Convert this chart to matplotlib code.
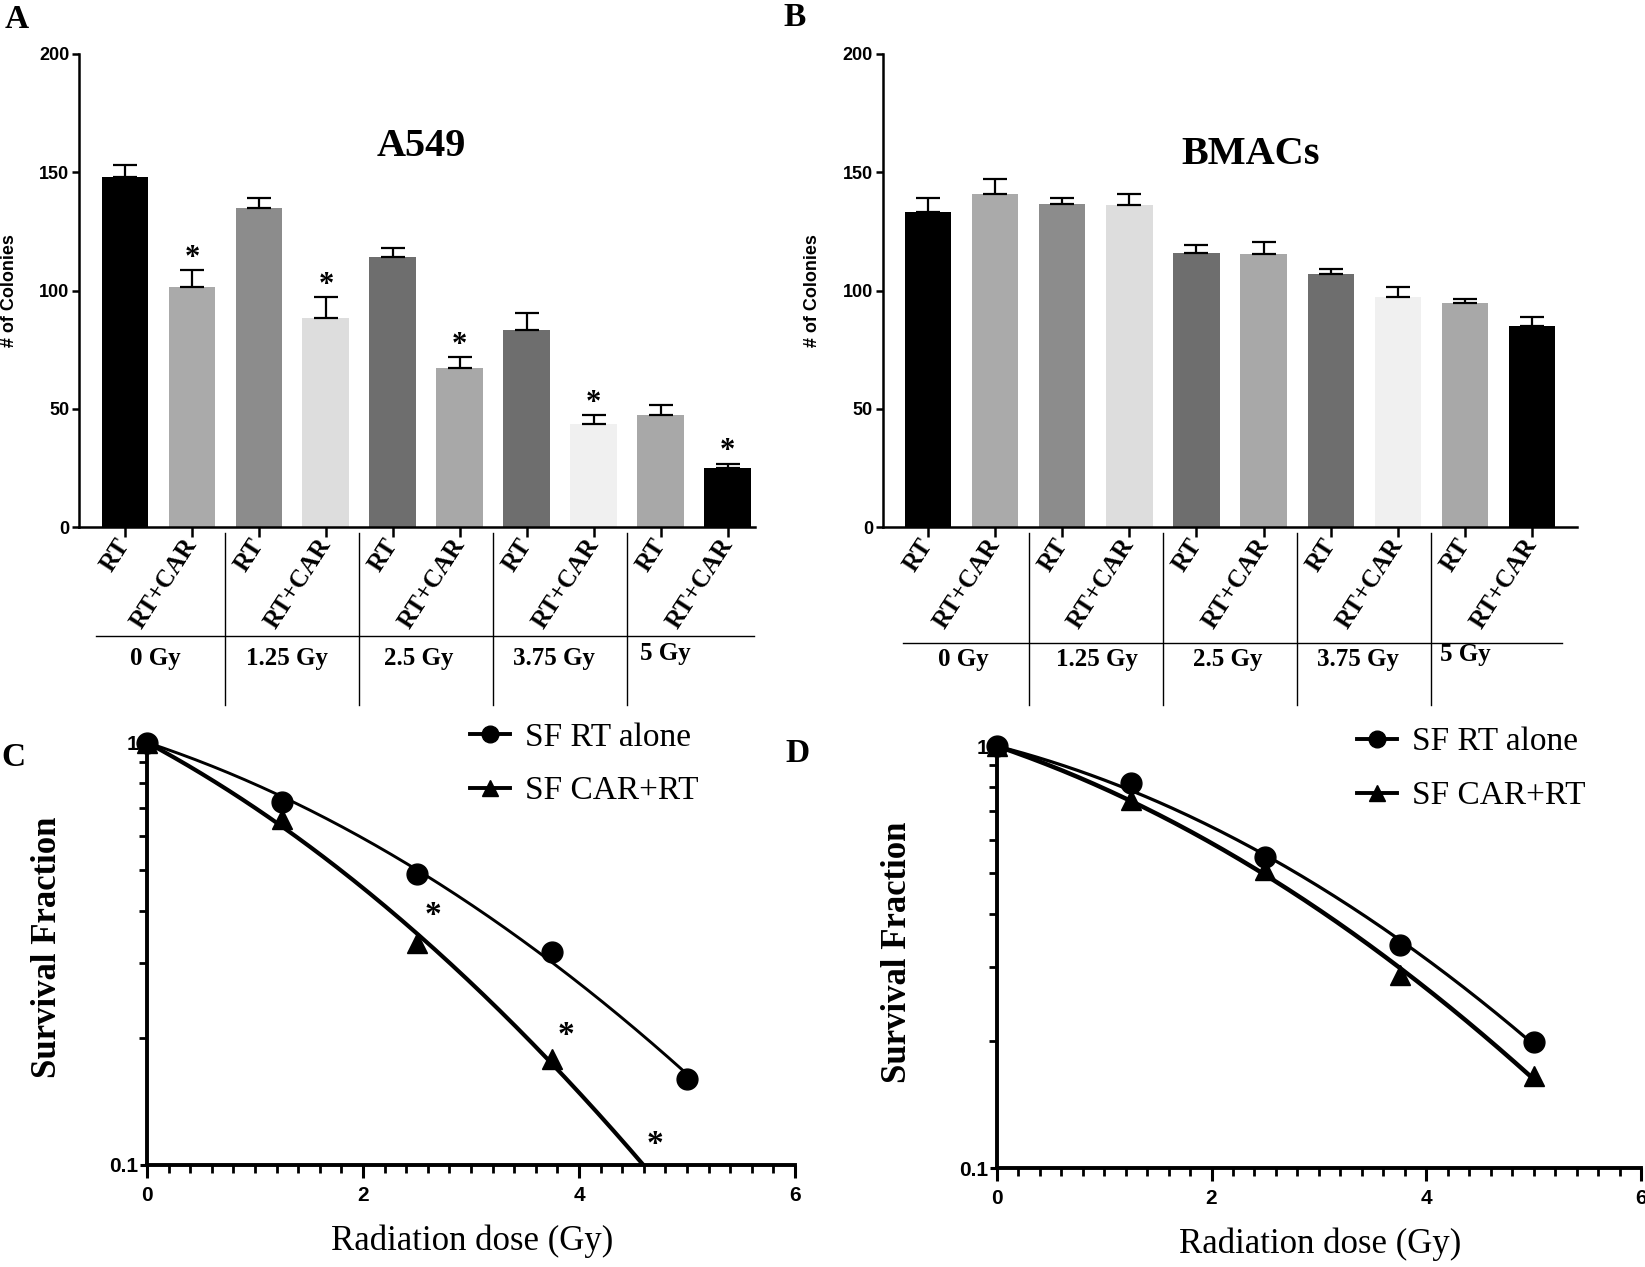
import numpy as np
import matplotlib
matplotlib.use('Agg')
import matplotlib.pyplot as plt
from matplotlib.transforms import blended_transform_factory
from matplotlib.ticker import FixedLocator, NullFormatter, MultipleLocator
from matplotlib.lines import Line2D

# ---------------- data ----------------
bar_labels = ['RT', 'RT+CAR'] * 5
dose_groups = ['0 Gy', '1.25 Gy', '2.5 Gy', '3.75 Gy', '5 Gy']
bar_colors = ['#000000', '#aaaaaa', '#8c8c8c', '#dddddd', '#6e6e6e',
              '#a8a8a8', '#6e6e6e', '#f0f0f0', '#a8a8a8', '#000000']

a549_means = [148.0, 101.6, 135.0, 88.4, 114.3, 67.3, 83.3, 43.6, 47.2, 25.0]
a549_err = [5.0, 7.2, 4.0, 8.8, 3.7, 4.7, 7.1, 3.6, 4.3, 1.8]
a549_sig = [False, True, False, True, False, True, False, True, False, True]

bmac_means = [133.1, 141.0, 136.6, 136.0, 116.0, 115.4, 106.8, 97.2, 94.7, 85.1]
bmac_err = [6.2, 6.0, 2.7, 4.8, 3.3, 5.0, 2.4, 4.1, 1.8, 3.5]

doses = [0, 1.25, 2.5, 3.75, 5]
c_rt = [1.0, 0.724, 0.488, 0.320, 0.160]
c_car = [1.0, 0.659, 0.336, 0.178, 0.075]
c_star_xy = [(2.65, 0.39), (3.88, 0.202), (4.70, 0.112)]
d_rt = [1.0, 0.815, 0.547, 0.338, 0.199]
d_car = [1.0, 0.746, 0.508, 0.286, 0.165]

SERIF = ['Liberation Serif', 'DejaVu Serif']
SANS = ['Liberation Sans', 'DejaVu Sans']

W, H = 1645, 1267
fig = plt.figure(figsize=(W / 100, H / 100), dpi=100)


def fig_rect(left, right, top, bottom):
    return [left / W, 1 - bottom / H, (right - left) / W, (bottom - top) / H]


def lq_fit(d, sf):
    d = np.asarray(d, float)
    y = np.log(np.asarray(sf, float))
    A = np.column_stack([d, d ** 2])
    coef, *_ = np.linalg.lstsq(A, y, rcond=None)
    return coef


def lq_curve(coef, dmax):
    dd = np.linspace(0, dmax, 200)
    return dd, np.exp(coef[0] * dd + coef[1] * dd ** 2)


# ---------------- bar panels ----------------
def bar_panel(rect, xlim, width, means, errs, sig, title, title_xy,
              group_line_x, group_line_y, label_pos, ylab_x):
    ax = fig.add_axes(rect)
    x = np.arange(len(means))
    ax.bar(x, means, width=width, color=bar_colors, zorder=2)
    ax.errorbar(x, means, yerr=[np.zeros(len(errs)), errs], fmt='none',
                ecolor='black', elinewidth=1.6, capsize=8.5, capthick=1.6,
                zorder=3)
    for xi, m, e, s in zip(x, means, errs, sig):
        if s:
            ax.annotate('*', (xi, m + e), xytext=(0, 3), textcoords='offset points',
                        ha='center', va='baseline', fontsize=22,
                        fontweight='bold', family=SERIF)
    ax.set_xlim(*xlim)
    ax.set_ylim(0, 200)
    ax.set_yticks([0, 50, 100, 150, 200])
    ax.set_xticks(x)
    ax.set_xticklabels(bar_labels, rotation=57, ha='right', va='center',
                       rotation_mode='anchor', fontsize=18, fontweight='bold',
                       family=SERIF)
    for lab in ax.get_yticklabels():
        lab.set_family(SANS)
        lab.set_fontweight('bold')
        lab.set_fontsize(13)
    ax.tick_params(axis='x', direction='out', length=7, width=1.8, pad=3)
    ax.tick_params(axis='y', direction='out', length=5, width=1.8, pad=2)
    for sp in ['top', 'right']:
        ax.spines[sp].set_visible(False)
    for sp in ['left', 'bottom']:
        ax.spines[sp].set_linewidth(1.8)
    ax.set_ylabel('# of Colonies', fontsize=13, fontweight='bold', family=SANS)
    ax.yaxis.set_label_coords(ylab_x, 0.5)
    ax.text(title_xy[0], title_xy[1], title, ha='center', va='center',
            fontsize=29, fontweight='bold', family=SERIF)
    tr = blended_transform_factory(ax.transData, ax.transAxes)
    ax.plot(group_line_x, [group_line_y, group_line_y], color='black', lw=1.0,
            transform=tr, clip_on=False)
    for sx in [1.5, 3.5, 5.5, 7.5]:
        ax.plot([sx, sx], [-0.013, -0.376], color='black', lw=1.0,
                transform=tr, clip_on=False)
    for g, (lx, ly) in zip(dose_groups, label_pos):
        ax.text(lx, ly, g, transform=tr, ha='center', va='center', fontsize=18,
                fontweight='bold', family=SERIF)
    return ax


bar_panel(fig_rect(79, 755, 54, 527), (-0.688, 9.41), 0.70,
          a549_means, a549_err, a549_sig, 'A549', (4.42, 161),
          [-0.433, 9.40], -0.230,
          [(0.45, -0.279), (2.42, -0.279), (4.39, -0.279), (6.41, -0.279),
           (8.07, -0.268)], -0.090)

bar_panel(fig_rect(882.6, 1577, 54, 527), (-0.677, 9.67), 0.69,
          bmac_means, bmac_err, [False] * 10, 'BMACs', (4.80, 157.7),
          [-0.37, 9.45], -0.245,
          [(0.52, -0.281), (2.51, -0.281), (4.46, -0.281), (6.41, -0.281),
           (8.00, -0.270)], -0.088)


# ---------------- survival panels ----------------
def sf_panel(rect, rt, car, lw_rt, lw_car, stars, legend_xy, ylab_y):
    ax = fig.add_axes(rect)
    ax.set_yscale('log')
    ax.set_xlim(0, 6)
    ax.set_ylim(0.1, 1)
    for vals, marker, ms, lw in [(rt, 'o', 15, lw_rt), (car, '^', 14, lw_car)]:
        coef = lq_fit(doses, vals)
        dd, ss = lq_curve(coef, max(doses))
        ax.plot(dd, ss, color='black', lw=lw, zorder=3)
        dv = [d for d, v in zip(doses, vals) if v >= 0.1]
        vv = [v for v in vals if v >= 0.1]
        ax.plot(dv, vv, linestyle='none', marker=marker, markersize=ms,
                color='black', clip_on=False, zorder=4)
    for sx, sy in stars:
        ax.text(sx, sy, '*', ha='center', va='center', fontsize=24,
                fontweight='bold', family=SERIF)
    ax.yaxis.set_major_locator(FixedLocator([0.1, 1]))
    ax.yaxis.set_minor_locator(FixedLocator([0.2, 0.3, 0.4, 0.5, 0.6, 0.7, 0.8, 0.9]))
    ax.yaxis.set_minor_formatter(NullFormatter())
    ax.set_yticklabels(['0.1', '1'])
    ax.xaxis.set_major_locator(MultipleLocator(2))
    ax.xaxis.set_minor_locator(MultipleLocator(0.2))
    for lab in ax.get_xticklabels() + ax.get_yticklabels():
        lab.set_family(SANS)
        lab.set_fontweight('bold')
        lab.set_fontsize(15)
    ax.tick_params(which='major', direction='out', length=9, width=2.2, pad=6)
    ax.tick_params(which='minor', direction='out', length=5.5, width=2.0)
    ax.tick_params(axis='y', which='major', length=5, pad=1)
    for sp in ['top', 'right']:
        ax.spines[sp].set_visible(False)
    for sp in ['left', 'bottom']:
        ax.spines[sp].set_linewidth(2.8)
    ax.set_ylabel('Survival Fraction', fontsize=25, fontweight='bold', family=SERIF)
    ax.yaxis.set_label_coords(-0.128, ylab_y)
    ax.set_xlabel('Radiation dose (Gy)', fontsize=25, family=SERIF)
    ax.xaxis.set_label_coords(0.5015, -0.142)
    handles = [Line2D([], [], color='black', lw=2.8, marker='o', markersize=12),
               Line2D([], [], color='black', lw=2.8, marker='^', markersize=12)]
    ax.legend(handles, ['SF RT alone', 'SF CAR+RT'], loc='upper left',
              bbox_to_anchor=legend_xy, bbox_transform=fig.transFigure,
              frameon=False, borderpad=0, borderaxespad=0, handlelength=1.2,
              handletextpad=0.45, labelspacing=0.7,
              prop={'family': SERIF, 'size': 24})
    return ax


sf_panel(fig_rect(147, 795, 742.5, 1165), c_rt, c_car, 2.1, 3.0, c_star_xy,
         (470 / W, 1 - 722 / H), 0.516)
sf_panel(fig_rect(996.6, 1641.3, 746, 1168), d_rt, d_car, 2.3, 3.2, [],
         (1357 / W, 1 - 727 / H), 0.512)

# ---------------- panel letters ----------------
for letter, px, py in [('A', 17, 20), ('B', 795, 17), ('C', 13, 758), ('D', 797, 754)]:
    fig.text(px / W, 1 - py / H, letter, ha='center', va='center', fontsize=24,
             fontweight='bold', family=SERIF)

fig.savefig('out.png', dpi=100, facecolor='white')
